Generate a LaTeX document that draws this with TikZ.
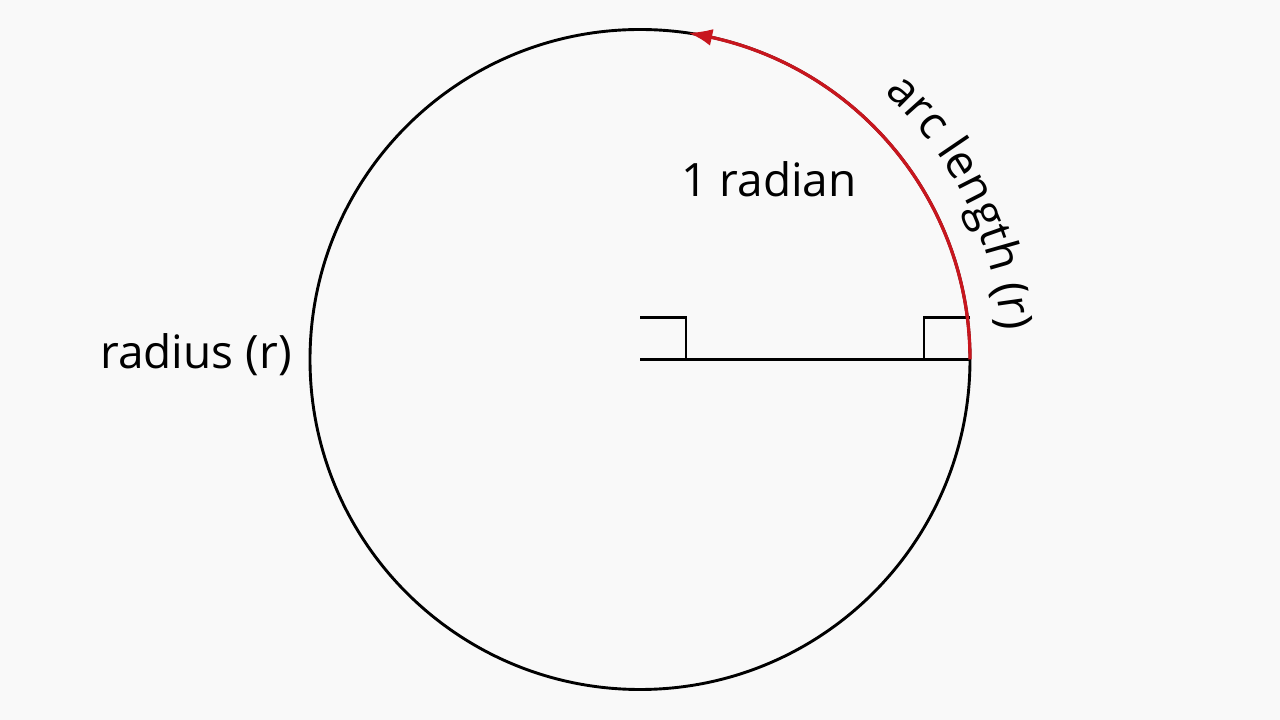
\documentclass[tikz,border=0pt]{standalone}
\usepackage{fontspec}
\setmainfont{Open Sans}
\usetikzlibrary{arrows.meta,bending,decorations.text}
\definecolor{arcred}{RGB}{200,22,30}
\definecolor{bgcol}{RGB}{249,249,249}

\begin{document}
\begin{tikzpicture}[x=1pt,y=1pt,line width=2.9pt,
  lbl/.style={font=\fontsize{46}{54}\selectfont,inner sep=0pt}]
\fill[bgcol] (0,0) rectangle (1280,720);
\useasboundingbox (0,0) rectangle (1280,720);
\coordinate (O) at (640,360.5);
\coordinate (A) at (970,360.5);
\draw (O) circle[radius=330];
\draw (O) -- (A);
\draw ([yshift=42]O) -| ([xshift=46]O);
\draw ([yshift=42]A) -| ([xshift=-46]A);
\draw[arcred,line width=3.3pt,-{Latex[length=24pt,width=17pt,bend]}] (A) arc[start angle=0,end angle=81.6,radius=330];
\path[decorate,decoration={text along path,text align=center,
  text={|\fontsize{46}{54}\selectfont|arc length (r)}}]
  ([shift={(50:362)}]O) arc[start angle=50,end angle=2,radius=362];
\node[lbl,anchor=base] (rad) at (769,523) {1 radian};
\node[lbl,anchor=base] (r) at (196,351) {radius (r)};
\end{tikzpicture}
\end{document}
